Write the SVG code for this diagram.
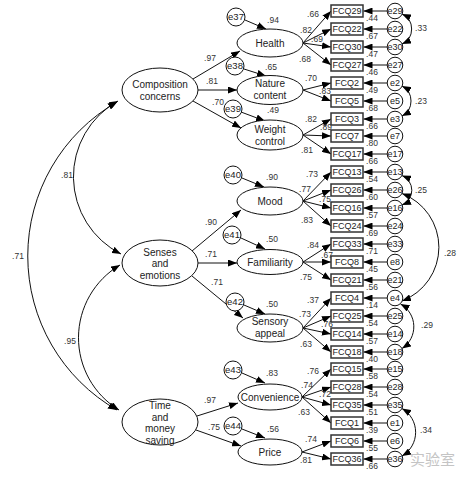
<svg xmlns="http://www.w3.org/2000/svg" width="467" height="477" viewBox="0 0 467 477">
<defs>
<marker id="ah" markerUnits="userSpaceOnUse" markerWidth="9" markerHeight="7" refX="9" refY="3.5" orient="auto-start-reverse"><path d="M0,0 L9,3.5 L0,7 z" fill="#000"/></marker>
<style>
text{font-family:"Liberation Sans",Arial,sans-serif;fill:#222}
.bx{fill:#fff;stroke:#333;stroke-width:1.5}
.bt{font-size:9px;text-anchor:middle}
.el{fill:#fff;stroke:#111;stroke-width:1}
.lt{font-size:10px;text-anchor:middle}
.ec{fill:#fff;stroke:#111;stroke-width:1}
.et{font-size:9px;text-anchor:middle}
.et2{font-size:9.5px;text-anchor:middle}
.n{font-size:8.5px;text-anchor:middle;fill:#333}
.a{stroke:#111;stroke-width:1;fill:none;marker-end:url(#ah)}
.d{stroke:#111;stroke-width:1;fill:none;marker-start:url(#ah);marker-end:url(#ah)}
.wm{font-family:"Noto Sans CJK SC",sans-serif;font-size:15px;fill:#c4c4c4}
</style>
</defs>
<rect width="467" height="477" fill="#fff"/>

<g id="connectors">
<path class="d" d="M118,101 A86.6,86.6 0 0 0 121,254"/>
<path class="d" d="M117,102 A177.5,177.5 0 0 0 117,410"/>
<path class="d" d="M120,265 A84.6,84.6 0 0 0 119,410"/>
<line class="a" x1="193" y1="79" x2="240" y2="51"/>
<line class="a" x1="198" y1="90" x2="237" y2="90"/>
<line class="a" x1="193" y1="101" x2="241" y2="128"/>
<line class="a" x1="192" y1="251" x2="241" y2="210"/>
<line class="a" x1="198" y1="263" x2="237" y2="263"/>
<line class="a" x1="192" y1="276" x2="243" y2="318"/>
<line class="a" x1="197" y1="416" x2="238" y2="403"/>
<line class="a" x1="196" y1="430" x2="241" y2="446"/>
<line class="a" x1="245" y1="20" x2="266" y2="29"/>
<line class="a" x1="244" y1="69" x2="266" y2="76"/>
<line class="a" x1="241" y1="112" x2="265" y2="121"/>
<line class="a" x1="242" y1="178" x2="264" y2="187"/>
<line class="a" x1="241" y1="238" x2="265" y2="249"/>
<line class="a" x1="244" y1="305" x2="265" y2="314"/>
<line class="a" x1="242" y1="373" x2="265" y2="383"/>
<line class="a" x1="242" y1="429" x2="265" y2="438"/>
<line class="a" x1="303" y1="43" x2="331" y2="11"/>
<line class="a" x1="303" y1="43" x2="331" y2="29"/>
<line class="a" x1="303" y1="43" x2="331" y2="47"/>
<line class="a" x1="303" y1="43" x2="331" y2="65"/>
<line class="a" x1="303" y1="90" x2="331" y2="83"/>
<line class="a" x1="303" y1="90" x2="331" y2="101"/>
<line class="a" x1="303" y1="135" x2="331" y2="119"/>
<line class="a" x1="303" y1="135" x2="331" y2="136"/>
<line class="a" x1="303" y1="135" x2="331" y2="154"/>
<line class="a" x1="303" y1="201" x2="331" y2="172"/>
<line class="a" x1="303" y1="201" x2="331" y2="190"/>
<line class="a" x1="303" y1="201" x2="331" y2="208"/>
<line class="a" x1="303" y1="201" x2="331" y2="226"/>
<line class="a" x1="303" y1="262" x2="331" y2="244"/>
<line class="a" x1="303" y1="262" x2="331" y2="262"/>
<line class="a" x1="303" y1="262" x2="331" y2="280"/>
<line class="a" x1="303" y1="328" x2="331" y2="298"/>
<line class="a" x1="303" y1="328" x2="331" y2="316"/>
<line class="a" x1="303" y1="328" x2="331" y2="334"/>
<line class="a" x1="303" y1="328" x2="331" y2="352"/>
<line class="a" x1="302" y1="397" x2="331" y2="369"/>
<line class="a" x1="302" y1="397" x2="331" y2="387"/>
<line class="a" x1="302" y1="397" x2="331" y2="405"/>
<line class="a" x1="302" y1="397" x2="331" y2="423"/>
<line class="a" x1="302" y1="452" x2="331" y2="441"/>
<line class="a" x1="302" y1="452" x2="331" y2="459"/>
<line class="a" x1="387" y1="11" x2="363.5" y2="11"/>
<line class="a" x1="387" y1="29" x2="363.5" y2="29"/>
<line class="a" x1="387" y1="47" x2="363.5" y2="47"/>
<line class="a" x1="387" y1="65" x2="363.5" y2="65"/>
<line class="a" x1="387" y1="83" x2="363.5" y2="83"/>
<line class="a" x1="387" y1="101" x2="363.5" y2="101"/>
<line class="a" x1="387" y1="119" x2="363.5" y2="119"/>
<line class="a" x1="387" y1="136" x2="363.5" y2="136"/>
<line class="a" x1="387" y1="154" x2="363.5" y2="154"/>
<line class="a" x1="387" y1="172" x2="363.5" y2="172"/>
<line class="a" x1="387" y1="190" x2="363.5" y2="190"/>
<line class="a" x1="387" y1="208" x2="363.5" y2="208"/>
<line class="a" x1="387" y1="226" x2="363.5" y2="226"/>
<line class="a" x1="387" y1="244" x2="363.5" y2="244"/>
<line class="a" x1="387" y1="262" x2="363.5" y2="262"/>
<line class="a" x1="387" y1="280" x2="363.5" y2="280"/>
<line class="a" x1="387" y1="298" x2="363.5" y2="298"/>
<line class="a" x1="387" y1="316" x2="363.5" y2="316"/>
<line class="a" x1="387" y1="334" x2="363.5" y2="334"/>
<line class="a" x1="387" y1="352" x2="363.5" y2="352"/>
<line class="a" x1="387" y1="369" x2="363.5" y2="369"/>
<line class="a" x1="387" y1="387" x2="363.5" y2="387"/>
<line class="a" x1="387" y1="405" x2="363.5" y2="405"/>
<line class="a" x1="387" y1="423" x2="363.5" y2="423"/>
<line class="a" x1="387" y1="441" x2="363.5" y2="441"/>
<line class="a" x1="387" y1="459" x2="363.5" y2="459"/>
<path class="d" d="M402,14 A16.5,16.5 0 0 1 402,44"/>
<path class="d" d="M402,86 A17,17 0 0 1 402,116"/>
<path class="d" d="M402,175.5 A16,16 0 0 1 402,205"/>
<path class="d" d="M402,193.5 A57.6,57.6 0 0 1 402,301"/>
<path class="d" d="M400.5,304 A26,26 0 0 1 402,348.5"/>
<path class="d" d="M402,408.5 A27.5,27.5 0 0 1 402,456"/>
<text class="n" x="67" y="178">.81</text>
<text class="n" x="18" y="259">.71</text>
<text class="n" x="70" y="344">.95</text>
<text class="n" x="210" y="61">.97</text>
<text class="n" x="212" y="84">.81</text>
<text class="n" x="218" y="105">.70</text>
<text class="n" x="211" y="225">.90</text>
<text class="n" x="211" y="257">.71</text>
<text class="n" x="217" y="285">.71</text>
<text class="n" x="210" y="403">.97</text>
<text class="n" x="214" y="430">.75</text>
<text class="n" x="273" y="23">.94</text>
<text class="n" x="271" y="70">.65</text>
<text class="n" x="273" y="113">.49</text>
<text class="n" x="272" y="180">.90</text>
<text class="n" x="272" y="242">.50</text>
<text class="n" x="272" y="307">.50</text>
<text class="n" x="272" y="376">.83</text>
<text class="n" x="273" y="432">.56</text>
<text class="n" x="313" y="17">.66</text>
<text class="n" x="306" y="33">.82</text>
<text class="n" x="317" y="42">.69</text>
<text class="n" x="305" y="62">.68</text>
<text class="n" x="311" y="81">.70</text>
<text class="n" x="325" y="94">.83</text>
<text class="n" x="311" y="122">.82</text>
<text class="n" x="326" y="130">.89</text>
<text class="n" x="307" y="153">.81</text>
<text class="n" x="312" y="177">.73</text>
<text class="n" x="305" y="192">.77</text>
<text class="n" x="325" y="202">.75</text>
<text class="n" x="307" y="223">.83</text>
<text class="n" x="313" y="248">.84</text>
<text class="n" x="327" y="258">.67</text>
<text class="n" x="306" y="280">.75</text>
<text class="n" x="313" y="303">.37</text>
<text class="n" x="305" y="317">.73</text>
<text class="n" x="327" y="327">.76</text>
<text class="n" x="306" y="347">.63</text>
<text class="n" x="313" y="374">.76</text>
<text class="n" x="307" y="388">.74</text>
<text class="n" x="325" y="397">.72</text>
<text class="n" x="304" y="415">.63</text>
<text class="n" x="311" y="442">.74</text>
<text class="n" x="306" y="463">.81</text>
<text class="n" x="372" y="21">.44</text>
<text class="n" x="372" y="39">.67</text>
<text class="n" x="372" y="57">.47</text>
<text class="n" x="372" y="75">.46</text>
<text class="n" x="372" y="93">.49</text>
<text class="n" x="372" y="111">.68</text>
<text class="n" x="372" y="129">.66</text>
<text class="n" x="372" y="146">.80</text>
<text class="n" x="372" y="164">.66</text>
<text class="n" x="372" y="182">.54</text>
<text class="n" x="372" y="200">.60</text>
<text class="n" x="372" y="218">.57</text>
<text class="n" x="372" y="236">.69</text>
<text class="n" x="372" y="254">.71</text>
<text class="n" x="372" y="272">.45</text>
<text class="n" x="372" y="290">.56</text>
<text class="n" x="372" y="308">.14</text>
<text class="n" x="372" y="326">.54</text>
<text class="n" x="372" y="344">.57</text>
<text class="n" x="372" y="362">.40</text>
<text class="n" x="372" y="379">.58</text>
<text class="n" x="372" y="397">.54</text>
<text class="n" x="372" y="415">.51</text>
<text class="n" x="372" y="433">.39</text>
<text class="n" x="372" y="451">.55</text>
<text class="n" x="372" y="469">.66</text>
<text class="n" x="421" y="31">.33</text>
<text class="n" x="421" y="104">.23</text>
<text class="n" x="421" y="193">.25</text>
<text class="n" x="450" y="256">.28</text>
<text class="n" x="427" y="328">.29</text>
<text class="n" x="426" y="433">.34</text>
</g>

<g id="composition"><ellipse class="el" cx="160" cy="90" rx="38" ry="22"/><text class="lt" x="160" y="87.5">Composition</text><text class="lt" x="160" y="99.5">concerns</text></g>
<g id="senses"><ellipse class="el" cx="160" cy="263" rx="38" ry="23"/><text class="lt" x="160" y="255.5">Senses</text><text class="lt" x="160" y="267">and</text><text class="lt" x="160" y="278.5">emotions</text></g>
<g id="timemoney"><ellipse class="el" cx="160" cy="422" rx="38" ry="23"/><text class="lt" x="160" y="408.5">Time</text><text class="lt" x="160" y="420.5">and</text><text class="lt" x="160" y="432">money</text><text class="lt" x="160" y="443.5">saving</text></g>

<g id="health"><ellipse class="el" cx="270" cy="43" rx="33" ry="14"/><text class="lt" x="270" y="46.5">Health</text></g>
<g id="nature"><ellipse class="el" cx="270" cy="90" rx="33" ry="14.5"/><text class="lt" x="270" y="86.5">Nature</text><text class="lt" x="270" y="98.5">content</text></g>
<g id="weight"><ellipse class="el" cx="270" cy="135" rx="33" ry="15"/><text class="lt" x="270" y="132.5">Weight</text><text class="lt" x="270" y="145">control</text></g>
<g id="mood"><ellipse class="el" cx="270" cy="201" rx="33" ry="14"/><text class="lt" x="270" y="204.5">Mood</text></g>
<g id="familiarity"><ellipse class="el" cx="270" cy="262" rx="33" ry="12.5"/><text class="lt" x="270" y="265.5">Familiarity</text></g>
<g id="sensory"><ellipse class="el" cx="270" cy="328" rx="33" ry="14"/><text class="lt" x="270" y="325">Sensory</text><text class="lt" x="270" y="337">appeal</text></g>
<g id="convenience"><ellipse class="el" cx="270" cy="397" rx="32" ry="13"/><text class="lt" x="270" y="400.5">Convenience</text></g>
<g id="price"><ellipse class="el" cx="270" cy="452" rx="32" ry="13"/><text class="lt" x="270" y="455.5">Price</text></g>

<g id="e37"><circle class="ec" cx="236" cy="17" r="9"/><text class="et2" x="236" y="20.3">e37</text></g>
<g id="e38"><circle class="ec" cx="235" cy="66" r="9"/><text class="et2" x="235" y="69.3">e38</text></g>
<g id="e39"><circle class="ec" cx="233" cy="109" r="9"/><text class="et2" x="233" y="112.3">e39</text></g>
<g id="e40"><circle class="ec" cx="233" cy="175" r="9"/><text class="et2" x="233" y="178.3">e40</text></g>
<g id="e41"><circle class="ec" cx="232" cy="235" r="9"/><text class="et2" x="232" y="238.3">e41</text></g>
<g id="e42"><circle class="ec" cx="235" cy="302" r="9"/><text class="et2" x="235" y="305.3">e42</text></g>
<g id="e43"><circle class="ec" cx="233" cy="370" r="9"/><text class="et2" x="233" y="373.3">e43</text></g>
<g id="e44"><circle class="ec" cx="233" cy="426" r="9"/><text class="et2" x="233" y="429.3">e44</text></g>

<g id="FCQ29"><rect class="bx" x="331" y="5" width="32" height="12"/><text class="bt" x="347" y="14.2">FCQ29</text></g>
<g id="FCQ22"><rect class="bx" x="331" y="23" width="32" height="12"/><text class="bt" x="347" y="32.2">FCQ22</text></g>
<g id="FCQ30"><rect class="bx" x="331" y="41" width="32" height="12"/><text class="bt" x="347" y="50.2">FCQ30</text></g>
<g id="FCQ27"><rect class="bx" x="331" y="59" width="32" height="12"/><text class="bt" x="347" y="68.2">FCQ27</text></g>
<g id="FCQ2"><rect class="bx" x="331" y="77" width="32" height="12"/><text class="bt" x="347" y="86.2">FCQ2</text></g>
<g id="FCQ5"><rect class="bx" x="331" y="95" width="32" height="12"/><text class="bt" x="347" y="104.2">FCQ5</text></g>
<g id="FCQ3"><rect class="bx" x="331" y="113" width="32" height="12"/><text class="bt" x="347" y="122.2">FCQ3</text></g>
<g id="FCQ7"><rect class="bx" x="331" y="130" width="32" height="12"/><text class="bt" x="347" y="139.2">FCQ7</text></g>
<g id="FCQ17"><rect class="bx" x="331" y="148" width="32" height="12"/><text class="bt" x="347" y="157.2">FCQ17</text></g>
<g id="FCQ13"><rect class="bx" x="331" y="166" width="32" height="12"/><text class="bt" x="347" y="175.2">FCQ13</text></g>
<g id="FCQ26"><rect class="bx" x="331" y="184" width="32" height="12"/><text class="bt" x="347" y="193.2">FCQ26</text></g>
<g id="FCQ16"><rect class="bx" x="331" y="202" width="32" height="12"/><text class="bt" x="347" y="211.2">FCQ16</text></g>
<g id="FCQ24"><rect class="bx" x="331" y="220" width="32" height="12"/><text class="bt" x="347" y="229.2">FCQ24</text></g>
<g id="FCQ33"><rect class="bx" x="331" y="238" width="32" height="12"/><text class="bt" x="347" y="247.2">FCQ33</text></g>
<g id="FCQ8"><rect class="bx" x="331" y="256" width="32" height="12"/><text class="bt" x="347" y="265.2">FCQ8</text></g>
<g id="FCQ21"><rect class="bx" x="331" y="274" width="32" height="12"/><text class="bt" x="347" y="283.2">FCQ21</text></g>
<g id="FCQ4"><rect class="bx" x="331" y="292" width="32" height="12"/><text class="bt" x="347" y="301.2">FCQ4</text></g>
<g id="FCQ25"><rect class="bx" x="331" y="310" width="32" height="12"/><text class="bt" x="347" y="319.2">FCQ25</text></g>
<g id="FCQ14"><rect class="bx" x="331" y="328" width="32" height="12"/><text class="bt" x="347" y="337.2">FCQ14</text></g>
<g id="FCQ18"><rect class="bx" x="331" y="346" width="32" height="12"/><text class="bt" x="347" y="355.2">FCQ18</text></g>
<g id="FCQ15"><rect class="bx" x="331" y="363" width="32" height="12"/><text class="bt" x="347" y="372.2">FCQ15</text></g>
<g id="FCQ28"><rect class="bx" x="331" y="381" width="32" height="12"/><text class="bt" x="347" y="390.2">FCQ28</text></g>
<g id="FCQ35"><rect class="bx" x="331" y="399" width="32" height="12"/><text class="bt" x="347" y="408.2">FCQ35</text></g>
<g id="FCQ1"><rect class="bx" x="331" y="417" width="32" height="12"/><text class="bt" x="347" y="426.2">FCQ1</text></g>
<g id="FCQ6"><rect class="bx" x="331" y="435" width="32" height="12"/><text class="bt" x="347" y="444.2">FCQ6</text></g>
<g id="FCQ36"><rect class="bx" x="331" y="453" width="32" height="12"/><text class="bt" x="347" y="462.2">FCQ36</text></g>

<g id="e29"><circle class="ec" cx="395" cy="11" r="7.8"/><text class="et" x="395" y="14.2">e29</text></g>
<g id="e22"><circle class="ec" cx="395" cy="29" r="7.8"/><text class="et" x="395" y="32.2">e22</text></g>
<g id="e30"><circle class="ec" cx="395" cy="47" r="7.8"/><text class="et" x="395" y="50.2">e30</text></g>
<g id="e27"><circle class="ec" cx="395" cy="65" r="7.8"/><text class="et" x="395" y="68.2">e27</text></g>
<g id="e2"><circle class="ec" cx="395" cy="83" r="7.8"/><text class="et" x="395" y="86.2">e2</text></g>
<g id="e5"><circle class="ec" cx="395" cy="101" r="7.8"/><text class="et" x="395" y="104.2">e5</text></g>
<g id="e3"><circle class="ec" cx="395" cy="119" r="7.8"/><text class="et" x="395" y="122.2">e3</text></g>
<g id="e7"><circle class="ec" cx="395" cy="136" r="7.8"/><text class="et" x="395" y="139.2">e7</text></g>
<g id="e17"><circle class="ec" cx="395" cy="154" r="7.8"/><text class="et" x="395" y="157.2">e17</text></g>
<g id="e13"><circle class="ec" cx="395" cy="172" r="7.8"/><text class="et" x="395" y="175.2">e13</text></g>
<g id="e26"><circle class="ec" cx="395" cy="190" r="7.8"/><text class="et" x="395" y="193.2">e26</text></g>
<g id="e16"><circle class="ec" cx="395" cy="208" r="7.8"/><text class="et" x="395" y="211.2">e16</text></g>
<g id="e24"><circle class="ec" cx="395" cy="226" r="7.8"/><text class="et" x="395" y="229.2">e24</text></g>
<g id="e33"><circle class="ec" cx="395" cy="244" r="7.8"/><text class="et" x="395" y="247.2">e33</text></g>
<g id="e8"><circle class="ec" cx="395" cy="262" r="7.8"/><text class="et" x="395" y="265.2">e8</text></g>
<g id="e21"><circle class="ec" cx="395" cy="280" r="7.8"/><text class="et" x="395" y="283.2">e21</text></g>
<g id="e4"><circle class="ec" cx="395" cy="298" r="7.8"/><text class="et" x="395" y="301.2">e4</text></g>
<g id="e25"><circle class="ec" cx="395" cy="316" r="7.8"/><text class="et" x="395" y="319.2">e25</text></g>
<g id="e14"><circle class="ec" cx="395" cy="334" r="7.8"/><text class="et" x="395" y="337.2">e14</text></g>
<g id="e18"><circle class="ec" cx="395" cy="352" r="7.8"/><text class="et" x="395" y="355.2">e18</text></g>
<g id="e15"><circle class="ec" cx="395" cy="369" r="7.8"/><text class="et" x="395" y="372.2">e15</text></g>
<g id="e28"><circle class="ec" cx="395" cy="387" r="7.8"/><text class="et" x="395" y="390.2">e28</text></g>
<g id="e35"><circle class="ec" cx="395" cy="405" r="7.8"/><text class="et" x="395" y="408.2">e35</text></g>
<g id="e1"><circle class="ec" cx="395" cy="423" r="7.8"/><text class="et" x="395" y="426.2">e1</text></g>
<g id="e6"><circle class="ec" cx="395" cy="441" r="7.8"/><text class="et" x="395" y="444.2">e6</text></g>
<g id="e36"><circle class="ec" cx="395" cy="459" r="7.8"/><text class="et" x="395" y="462.2">e36</text></g>

<text class="wm" x="410" y="465">实验室</text>
</svg>
